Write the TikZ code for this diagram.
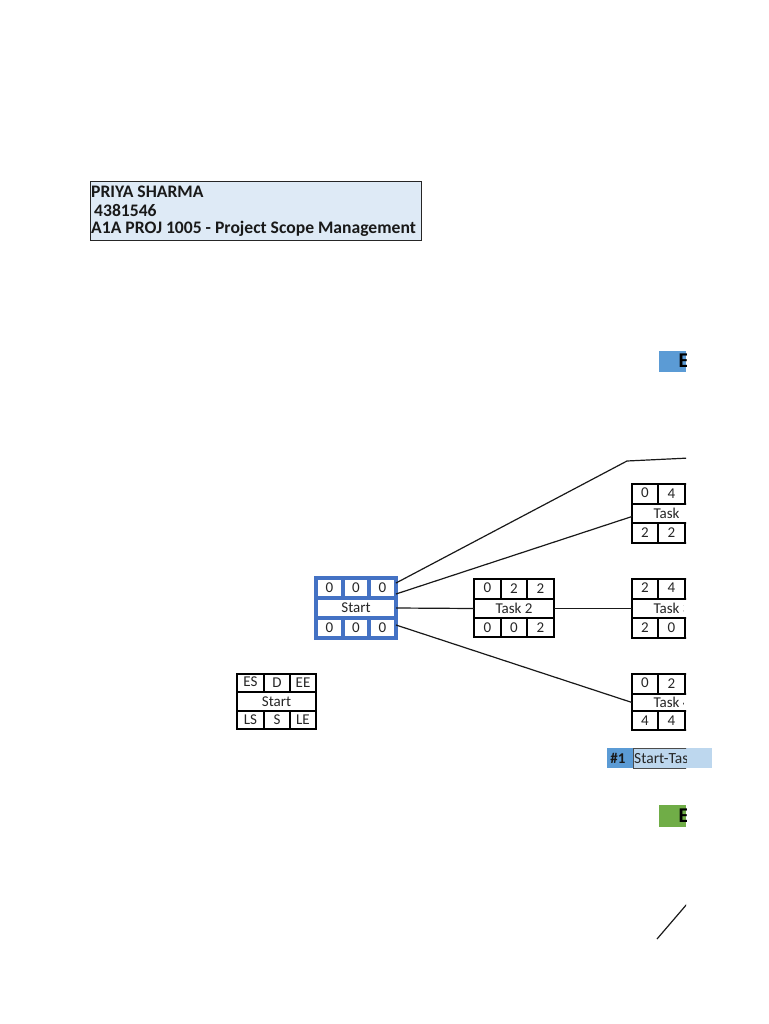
\documentclass[tikz,border=0pt]{standalone}
\usepackage{fontspec}
\setmainfont{Carlito}
\definecolor{hdrfill}{HTML}{DEEAF6}
\definecolor{barblue}{HTML}{5B9BD5}
\definecolor{barlight}{HTML}{BDD7EE}
\definecolor{bargreen}{HTML}{70AD47}
\definecolor{startblue}{HTML}{4472C4}
\tikzset{
  cell/.style={draw=black,line width=2.5pt,inner sep=0pt,outer sep=0pt,anchor=north west,font=\fontsize{15}{15}\selectfont,text=black!85},
  bluecell/.style={cell,draw=startblue,line width=3.2pt},
  conn/.style={draw=black!90,line width=1.2pt},
  band/.style={inner sep=0pt,outer sep=0pt,anchor=north west},
  headline/.style={inner sep=0pt,anchor=west,font=\fontsize{17.6}{18}\selectfont\bfseries,text=black!90}
}
\newcommand\up[1]{\raisebox{2pt}{#1}}
% name, style, x0, y0, x1, y1, text
\newcommand\pcell[7]{\pgfmathsetlengthmacro\pw{(#5)-(#3)}\pgfmathsetlengthmacro\ph{(#6)-(#4)}%
  \node[#2,minimum width=\pw,minimum height=\ph] (#1) at (#3,#4) {#7};}
\newcommand\prow[8]{\def\rp{#1}\def\rs{#2}\def\ra{#3}\def\rb{#4}\def\rc{#5}\def\rd{#6}\def\re{#7}\def\rf{#8}\prowtext}
\newcommand\prowtext[3]{%
  \pcell{\rp1}{\rs}{\ra}{\re}{\rb}{\rf}{#1}%
  \pcell{\rp2}{\rs}{\rb}{\re}{\rc}{\rf}{#2}%
  \pcell{\rp3}{\rs}{\rc}{\re}{\rd}{\rf}{#3}}
\begin{document}
\begin{tikzpicture}[x=1pt,y=-1pt]
\useasboundingbox (0,0) rectangle (768,1024);
\fill[white] (0,0) rectangle (768,1024);
% header
\node[band,draw=black!85,line width=0.9pt,fill=hdrfill,minimum width=331pt,minimum height=59pt] (hdr) at (90,181) {};
\node[headline] (h1) at (91,192) {PRIYA SHARMA};
\node[headline] (h2) at (94,210) {4381546};
\node[headline] (h3) at (91,228.5) {A1A PROJ 1005 - Project Scope Management};
% legend bar, extends past the cut
\node[band,fill=barlight,minimum width=79pt,minimum height=20pt] (barl) at (633,748) {};
\node[band,fill=barblue,minimum width=26pt,minimum height=20pt] (bard) at (607,748) {};
\node[inner sep=0pt,font=\fontsize{15}{15}\selectfont\bfseries,text=black!90] (barn) at (618,758) {\#1};
% legend box
\prow{lt}{cell}{237}{264}{290}{316}{674}{692}{\up{ES}}{D}{EE}
\pcell{lm}{cell}{237}{692}{316}{711}{Start}
\prow{lb}{cell}{237}{264}{290}{316}{711}{729}{LS}{S}{LE}
% task 2
\prow{bt}{cell}{474}{501}{527}{554}{579}{599}{\up{0}}{2}{2}
\pcell{bm}{cell}{474}{599}{554}{618}{Task 2}
\prow{bb}{cell}{474}{501}{527}{554}{618}{637}{0}{0}{2}
% start
\prow{st}{bluecell}{316}{343}{369}{396}{578}{598}{0}{0}{0}
\pcell{sm}{bluecell}{316}{598}{396}{618}{Start}
\prow{sb}{bluecell}{316}{343}{369}{396}{618}{638}{0}{0}{0}
% everything cut off at the right page edge of the sheet
\begin{scope}
\clip (0,0) rectangle (686,1024);
\node[band,fill=barblue,minimum width=27pt,minimum height=21pt] (ebl) at (659,351) {};
\node[inner sep=0pt,anchor=west,font=\fontsize{21}{21}\selectfont\bfseries,text=black] (etb) at (678.5,361) {E};
\node[band,fill=bargreen,minimum width=27pt,minimum height=22pt] (egr) at (659,805) {};
\node[inner sep=0pt,anchor=west,font=\fontsize{21}{21}\selectfont\bfseries,text=black] (etg) at (678.5,816) {E};
\node[band,draw=black!70,line width=0.8pt,minimum width=70pt,minimum height=20pt] (bart) at (633,748) {};
\node[inner sep=0pt,anchor=west,font=\fontsize{15.5}{15}\selectfont,text=black!85] (bartx) at (634,758) {Start-Task 1};
% task 1
\prow{at}{cell}{632}{658}{685}{712}{484}{504}{\up{0}}{4}{}
\prow{ab}{cell}{632}{658}{685}{712}{523}{543}{2}{2}{}
% task 3
\prow{ct}{cell}{632}{658}{685}{712}{579}{599}{\up{2}}{\up{4}}{}
\prow{cb}{cell}{632}{658}{685}{712}{618}{638}{2}{0}{}
% task 4
\prow{dt}{cell}{632}{658}{685}{712}{674}{694}{\up{0}}{2}{}
\prow{db}{cell}{632}{658}{685}{712}{711}{730}{4}{4}{}
\begin{scope}
\clip (0,0) rectangle (683.5,1024);
\pcell{am}{cell}{632}{504}{712}{523}{Task 1}
\pcell{cm}{cell}{632}{599}{712}{618}{Task 3}
\pcell{dm}{cell}{632}{694}{712}{711}{Task 4}
\end{scope}
% connectors
\coordinate (elbow) at (627,461);
\coordinate (offr) at (700,457.5);
\coordinate (gfrom) at (657,939);
\coordinate (gto) at (690,900.5);
\draw[conn] ([yshift=5pt]st3.east) -- (elbow) -- (offr);
\draw[conn] ([yshift=-6pt]st3.east) -- ([yshift=-3pt]am.west);
\draw[conn] (sm.east) -- (bm.west);
\draw[conn] (bm.east) -- (cm.west);
\draw[conn] ([yshift=3pt]sb3.east) -- (dm.west);
\draw[conn] (gfrom) -- (gto);
\end{scope}
\end{tikzpicture}
\end{document}
